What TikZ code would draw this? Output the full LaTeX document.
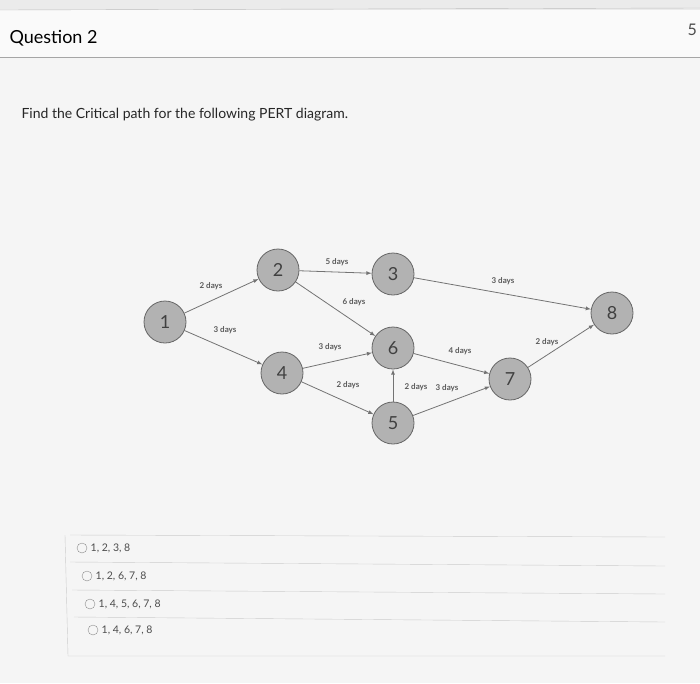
\documentclass[tikz,border=0pt]{standalone}
\usepackage{fontspec}
\setmainfont{Lato}
\begin{document}
\begin{tikzpicture}[x=1pt,y=-1pt,
  ev/.style={circle,draw=black!60,fill=black!30,line width=0.8pt,minimum size=42pt,inner sep=0pt,font=\fontsize{18}{18}\selectfont\color{black!75}},
  act/.style={-latex,draw=black!55,line width=0.8pt},
  lab/.style={font=\bfseries\fontsize{8}{8}\selectfont,text=black!65,inner sep=1pt},
  opt/.style={font=\fontsize{10.5}{11}\selectfont,text=black!70,anchor=west},
  rad/.style={circle,draw=black!45,minimum size=10pt,inner sep=0pt}]
\useasboundingbox (0,0) rectangle (700,683);
\fill[black!8] (0,0) rectangle (700,683);
\fill[black!2] (0,10) rectangle (700,57);
\fill[white!96!black] (0,57) rectangle (700,683);
\draw[black!25] (0,10) -- (700,8);
\draw[black!35] (0,57) -- (700,57);
\node[anchor=west,font=\fontsize{18}{18}\selectfont] (q) at (6,38) {Question 2};
\node[anchor=west,font=\fontsize{16}{16}\selectfont,text=black!70] (pts) at (684,30) {5};
\node[anchor=west,font=\fontsize{14}{14}\selectfont,text=black!85] (t) at (18,115) {Find the Critical path for the following PERT diagram.};
\node[ev] (n1) at (165,322) {1};
\node[ev] (n2) at (278,270) {2};
\node[ev] (n3) at (393,274) {3};
\node[ev] (n6) at (393,348) {6};
\node[ev] (n4) at (282,373) {4};
\node[ev] (n5) at (393,423) {5};
\node[ev] (n7) at (510,379) {7};
\node[ev] (n8) at (612,313) {8};
\draw[act] (n1) -- (n2);
\draw[act] (n1) -- (n4);
\draw[act] (n2) -- (n3);
\draw[act] (n2) -- (n6);
\draw[act] (n3) -- (n8);
\draw[act] (n4) -- (n6);
\draw[act] (n4) -- (n5);
\draw[act] (n5) -- (n6);
\draw[act] (n5) -- (n7);
\draw[act] (n6) -- (n7);
\draw[act] (n7) -- (n8);
\node[lab] (l12) at (211,286) {2 days};
\node[lab] (l14) at (225,330) {3 days};
\node[lab] (l23) at (337,262) {5 days};
\node[lab] (l26) at (354,302) {6 days};
\node[lab] (l38) at (503,281) {3 days};
\node[lab] (l46) at (330,347) {3 days};
\node[lab] (l45) at (348,385) {2 days};
\node[lab] (l56) at (416,387) {2 days};
\node[lab] (l57) at (447,388) {3 days};
\node[lab] (l67) at (460,351) {4 days};
\node[lab] (l78) at (547,342) {2 days};
\node[rad] (r1) at (82,548) {}; \node[opt] (o1) at (r1.east) {1, 2, 3, 8};
\node[rad] (r2) at (87,576) {}; \node[opt] (o2) at (r2.east) {1, 2, 6, 7, 8};
\node[rad] (r3) at (90,604) {}; \node[opt] (o3) at (r3.east) {1, 4, 5, 6, 7, 8};
\node[rad] (r4) at (93,630) {}; \node[opt] (o4) at (r4.east) {1, 4, 6, 7, 8};
\draw[black!20] (70,535) -- (665,537);
\draw[black!20] (70,562) -- (665,566);
\draw[black!20] (72,590) -- (665,594);
\draw[black!20] (74,617) -- (665,622);
\draw[black!20] (65,535) -- (68,656) -- (665,656);
\end{tikzpicture}
\end{document}
